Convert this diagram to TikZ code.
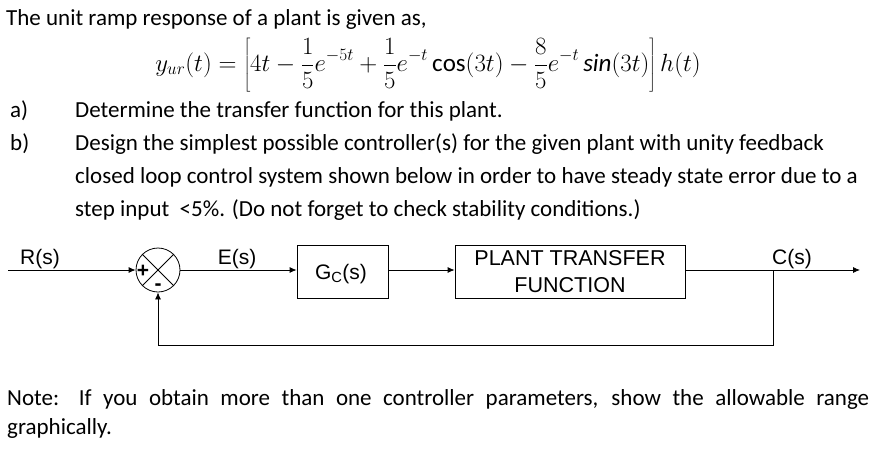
\documentclass[tikz,border=0pt]{standalone}
\usepackage{fontspec}
\setmainfont{Carlito}
\newfontfamily\arialf{Liberation Sans}
\usetikzlibrary{arrows.meta}
\begin{document}
\begin{tikzpicture}[x=1pt,y=-1pt,
  txt/.style={anchor=base west,inner sep=0,font=\fontsize{23}{27}\selectfont},
  lbl/.style={inner sep=0,font=\arialf\fontsize{21}{24}\selectfont},
  blk/.style={draw,line width=0.8pt,inner sep=0},
  sig/.style={line width=0.8pt,-{Latex[length=7pt,width=6pt]}},
  ln/.style={line width=0.8pt}]
\useasboundingbox (0,0) rectangle (884,458);
\node[txt] (t1) at (6,25) {The unit ramp response of a plant is given as,};
\node[inner sep=0,font=\fontsize{25}{28}\selectfont] (eq) at (428,65)
 {$\displaystyle y_{ur}(t)=\left[4t-\frac{1}{5}e^{-5t}+\frac{1}{5}e^{-t}\,\mathrm{cos}(3t)-\frac{8}{5}e^{-t}\,\mathit{sin}(3t)\right]h(t)$};
\node[txt] (a) at (10,117) {a)};
\node[txt] (at) at (75,117) {Determine the transfer function for this plant.};
\node[txt] (b) at (10,150) {b)};
\node[txt] (bt1) at (75,150) {Design the simplest possible controller(s) for the given plant with unity feedback};
\node[txt] (bt2) at (75,183) {closed loop control system shown below in order to have steady state error due to a};
\node[txt] (bt3) at (75,216) {step input \ {<}5\%. (Do not forget to check stability conditions.)};
\node[txt] (n1) at (7,405) {\makebox[862pt][s]{Note: If you obtain more than one controller parameters, show the allowable range}};
\node[txt] (n2) at (7,434) {graphically.};
% diagram
\coordinate (in) at (8,270);
\node[draw,circle,line width=0.8pt,minimum size=44pt,inner sep=0] (sum) at (158,270) {};
\draw[ln] (sum.north west) -- (sum.south east) (sum.north east) -- (sum.south west);
\node[inner sep=0,font=\arialf\bfseries\fontsize{21}{22}\selectfont] (plus) at (143,271) {+};
\node[inner sep=0,font=\arialf\bfseries\fontsize{21}{22}\selectfont] (minus) at (158,287) {-};
\node[blk,minimum width=91pt,minimum height=53pt] (gc) at (342.5,271.5) {};
\node[lbl] (gct) at (341,274) {G\textsubscript{C}(s)};
\node[blk,minimum width=230pt,minimum height=53pt,align=center,font=\arialf\fontsize{21.5}{27}\selectfont] (pl) at (570,271.5) {PLANT TRANSFER\\FUNCTION};
\coordinate (out) at (860,270);
\coordinate (tap) at (773,270);
\coordinate (fb1) at (773,345);
\coordinate (fb2) at (158,345);
\draw[sig] (in) -- (sum.west);
\draw[sig] (sum.east) -- (gc.west |- sum.east);
\draw[sig] (gc.east |- sum.east) -- (pl.west |- sum.east);
\draw[sig] (pl.east |- sum.east) -- (out);
\draw[sig] (tap) -- (fb1) -- (fb2) -- (sum.south);
\node[lbl] (r) at (40,259) {R(s)};
\node[lbl] (e) at (237,259) {E(s)};
\node[lbl] (c) at (792,259) {C(s)};
\end{tikzpicture}
\end{document}
